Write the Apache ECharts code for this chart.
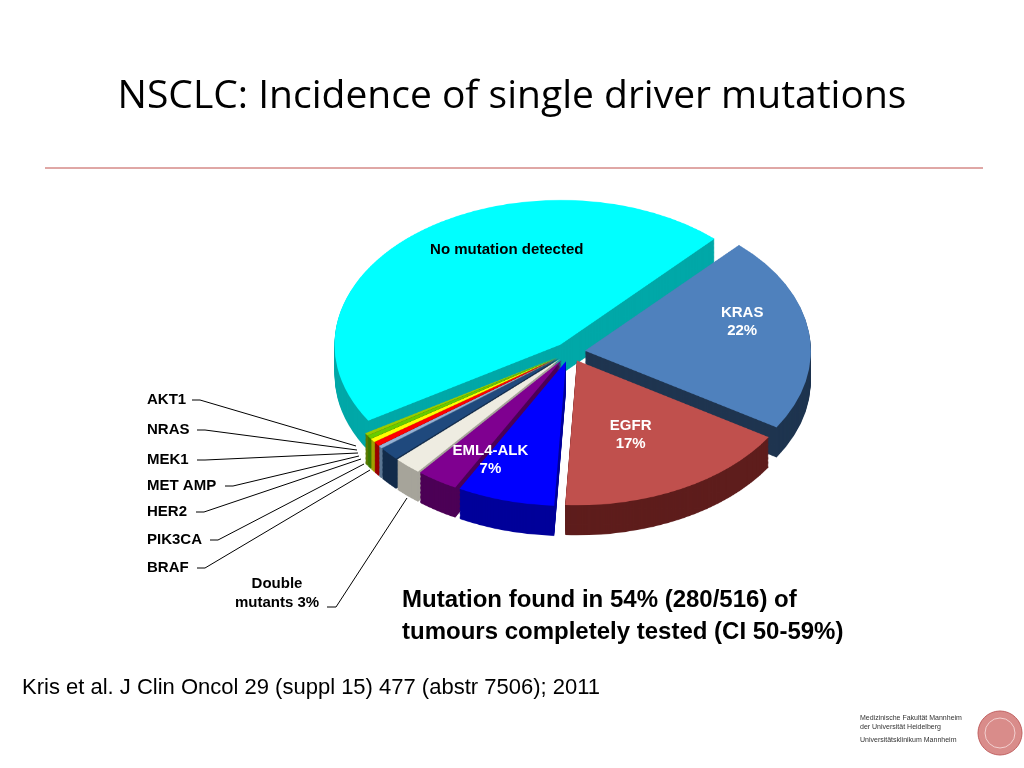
<!DOCTYPE html>
<html><head><meta charset="utf-8">
<script src="https://cdn.jsdelivr.net/npm/echarts@6/dist/echarts.min.js"></script>
<style>
html,body{margin:0;padding:0;background:#fff;}
#pie{position:absolute;left:270px;top:52px;width:600px;height:600px;transform:scaleY(0.64);transform-origin:50% 50%;}
#main{position:absolute;left:0;top:0;width:1024px;height:768px;}
</style></head>
<body>
<div id="pie"></div>
<div id="main"></div>
<script>
const categories = ['KRAS','EGFR','EML4-ALK','Double mutants','BRAF','PIK3CA','HER2','MET AMP','MEK1','NRAS','AKT1','No mutation detected'];
const values = [22,17,7,3,2,1.5,0.3,0.5,0.4,0.4,0.3,45.9];
const topColors = ['#4f81bd','#c0504d','#0000ff','#7f0090','#eeece1','#1f497d','#95b3d7','#ff0000','#ffff00','#66cc00','#99cc00','#00ffff'];
const sideColors = ['#1f3550','#5e1d1c','#00009a','#4c0056','#a6a49a','#122b4a','#5a7592','#990000','#a0a000','#3a7a00','#5a7a00','#00a8a8'];
const insideLabels = {'KRAS':'KRAS\n22%','EGFR':'EGFR\n17%','EML4-ALK':'EML4-ALK\n7%','No mutation detected':'No mutation detected'};
const leftLabels = ['AKT1','NRAS','MEK1','MET AMP','HER2','PIK3CA','BRAF'];

const START = 47, R = 226, SY = 0.64, CX = 570, CY = 352, OFF = 15, DEPTH = 47;
const pie = echarts.init(document.getElementById('pie'));
const series = [];
function mk(colors, dy){
  return {type:'pie', radius:[0,R], center:[300,300+dy], startAngle:START, clockwise:true,
    selectedMode:'multiple', selectedOffset:OFF, animation:false, silent:true,
    label:{show:false}, labelLine:{show:false},
    emphasis:{disabled:true}, select:{itemStyle:{}},
    data: categories.map((c,i)=>({name:c, value:values[i], selected:true,
      itemStyle:{color:colors[i], borderWidth:0}}))};
}
for(let d=DEPTH; d>0; d-=2) series.push(mk(sideColors,d));
series.push(mk(topColors,0));
pie.setOption({series});

const total = values.reduce((a,b)=>a+b,0);
const graphics = [];
let cum = 0;
const mids = {};
categories.forEach((c,i)=>{ mids[c] = START - 360*(cum+values[i]/2)/total; cum += values[i]; });
function pos(c,k){ const a = mids[c]*Math.PI/180; const r = R*k+OFF;
  return [CX + Math.cos(a)*r, CY - Math.sin(a)*r*SY]; }
const lblK = {'KRAS':0.72,'EGFR':0.62,'EML4-ALK':0.62,'No mutation detected':0.8};
const nudge = {'KRAS':[-4,-15],'EGFR':[-11,-5],'EML4-ALK':[-38,12],'No mutation detected':[61,-5]};
Object.keys(insideLabels).forEach(c=>{
  const p = pos(c, lblK[c]);
  graphics.push({type:'text', x:p[0]+nudge[c][0], y:p[1]+nudge[c][1], style:{text:insideLabels[c], fill: c==='No mutation detected'?'#000':'#fff',
    font:'bold 15px "Liberation Sans", Arial', align:'center', verticalAlign:'middle', lineHeight:18}});
});
const ly = [400,430,460,486,512,540,568];
const tipX = [356,357,358,359,361,364,370], tipY = [446,450,453,456,459,464,470];
const lblW = {AKT1:43,NRAS:48,MEK1:48,'MET AMP':76,HER2:47,PIK3CA:61,BRAF:48};
leftLabels.forEach((t,i)=>{
  graphics.push({type:'text', x:147, y:ly[i], style:{text:t, fill:'#000', font:'bold 15px "Liberation Sans", Arial', verticalAlign:'middle'}});
  const x0 = 147+lblW[t]+2;
  graphics.push({type:'polyline', shape:{points:[[x0,ly[i]],[x0+8,ly[i]],[tipX[i],tipY[i]]]}, style:{stroke:'#000',lineWidth:1,fill:null}});
});
graphics.push({type:'text', x:277, y:593, style:{text:'Double\nmutants 3%', fill:'#000', font:'bold 15px "Liberation Sans", Arial', align:'center', verticalAlign:'middle', lineHeight:19}});
graphics.push({type:'polyline', shape:{points:[[327,607],[336,607],[407,498]]}, style:{stroke:'#000',lineWidth:1,fill:null}});
graphics.push({type:'text', x:512, y:97, style:{text:'NSCLC: Incidence of single driver mutations', fill:'#000', font:'39px "Open Sans", "Liberation Sans"', align:'center', verticalAlign:'middle'}});
graphics.push({type:'line', shape:{x1:45,y1:168,x2:983,y2:168}, style:{stroke:'#c0504d', lineWidth:1}});
graphics.push({type:'text', x:402, y:616, style:{text:'Mutation found in 54% (280/516) of\ntumours completely tested (CI 50-59%)', fill:'#000', font:'bold 24px "Liberation Sans", Arial', verticalAlign:'middle', lineHeight:32}});
graphics.push({type:'text', x:22, y:688, style:{text:'Kris et al. J Clin Oncol 29 (suppl 15) 477 (abstr 7506); 2011', fill:'#000', font:'22px "Liberation Sans", Arial', verticalAlign:'middle'}});
graphics.push({type:'text', x:860, y:723, style:{text:'Medizinische Fakultät Mannheim\nder Universität Heidelberg', fill:'#333', font:'7px "Liberation Sans", Arial', verticalAlign:'middle', lineHeight:9}});
graphics.push({type:'text', x:860, y:740, style:{text:'Universitätsklinikum Mannheim', fill:'#333', font:'7px "Liberation Sans", Arial', verticalAlign:'middle'}});
graphics.push({type:'circle', shape:{cx:1000,cy:733,r:22}, style:{fill:'#d98c8a', stroke:'#c06060', lineWidth:1}});
graphics.push({type:'circle', shape:{cx:1000,cy:733,r:15}, style:{fill:'none', stroke:'#f3d0cf', lineWidth:1}});

const main = echarts.init(document.getElementById('main'));
main.setOption({animation:false, graphic:graphics});
</script>
</body></html>
